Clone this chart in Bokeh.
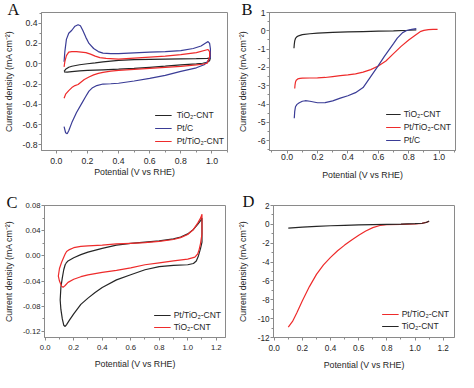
from bokeh.plotting import figure
from bokeh.layouts import column, row
from bokeh.models import Legend, LegendItem, SingleIntervalTicker, NumeralTickFormatter, Title
from bokeh.embed import file_html
from bokeh.resources import INLINE

# ---------------- data ----------------
a_tio2_v = [0.05, 0.06, 0.08, 0.10, 0.15, 0.20, 0.25, 0.30, 0.40, 0.50, 0.60, 0.70, 0.80, 0.90, 0.97, 0.99,
            0.985, 0.97, 0.94, 0.90, 0.80, 0.70, 0.60, 0.50, 0.40, 0.30, 0.20, 0.15, 0.10, 0.07, 0.05]
a_tio2_j = [-0.075, -0.055, -0.035, -0.025, -0.010, 0.000, 0.008, 0.018, 0.034, 0.040, 0.043, 0.046, 0.048, 0.050, 0.052, 0.055,
            0.030, 0.015, 0.005, -0.002, -0.012, -0.024, -0.035, -0.045, -0.054, -0.060, -0.066, -0.070, -0.077, -0.083, -0.080]
a_ptc_v = [0.05, 0.055, 0.065, 0.08, 0.10, 0.12, 0.14, 0.155, 0.17, 0.19, 0.21, 0.24, 0.27, 0.30, 0.35, 0.40, 0.50, 0.60,
           0.70, 0.80, 0.88, 0.93, 0.96, 0.975, 0.985, 0.99, 0.99,
           0.97, 0.95, 0.90, 0.80, 0.70, 0.60, 0.50, 0.40, 0.35, 0.30, 0.26, 0.23, 0.21, 0.19, 0.16, 0.13, 0.10, 0.08,
           0.07, 0.06, 0.05]
a_ptc_j = [0.02, 0.12, 0.24, 0.30, 0.33, 0.37, 0.385, 0.375, 0.33, 0.26, 0.20, 0.15, 0.12, 0.105, 0.10, 0.10, 0.108, 0.115,
           0.12, 0.13, 0.15, 0.175, 0.205, 0.218, 0.20, 0.15, 0.06,
           0.02, -0.01, -0.04, -0.075, -0.115, -0.145, -0.17, -0.192, -0.197, -0.20, -0.215, -0.24, -0.27, -0.32, -0.40,
           -0.48, -0.58, -0.66, -0.69, -0.68, -0.62]
a_pt_v = [0.05, 0.055, 0.065, 0.08, 0.10, 0.13, 0.16, 0.19, 0.22, 0.25, 0.28, 0.32, 0.40, 0.50, 0.60, 0.70, 0.80, 0.90,
          0.975, 0.985, 0.985,
          0.97, 0.94, 0.90, 0.80, 0.70, 0.60, 0.50, 0.40, 0.35, 0.30, 0.27, 0.24, 0.21, 0.18, 0.16, 0.14, 0.12, 0.10,
          0.08, 0.06, 0.05]
a_pt_j = [-0.03, 0.02, 0.08, 0.115, 0.12, 0.12, 0.115, 0.11, 0.095, 0.075, 0.06, 0.052, 0.045, 0.055, 0.065, 0.075, 0.09,
          0.11, 0.14, 0.12, 0.07,
          0.005, -0.005, -0.012, -0.025, -0.035, -0.045, -0.055, -0.065, -0.072, -0.085, -0.095, -0.11, -0.13, -0.155,
          -0.18, -0.205, -0.215, -0.235, -0.265, -0.30, -0.34]

b_tio2_v = [0.045, 0.047, 0.05, 0.055, 0.065, 0.08, 0.10, 0.15, 0.20, 0.30, 0.40, 0.50, 0.60, 0.70, 0.80, 0.85]
b_tio2_j = [-0.95, -0.75, -0.55, -0.42, -0.32, -0.26, -0.21, -0.16, -0.13, -0.09, -0.06, -0.04, -0.02, 0.00, 0.03, 0.05]
b_pt_v = [0.05, 0.052, 0.055, 0.06, 0.07, 0.085, 0.10, 0.15, 0.20, 0.25, 0.30, 0.35, 0.40, 0.45, 0.50, 0.55, 0.60,
          0.65, 0.70, 0.75, 0.80, 0.85, 0.88, 0.90, 0.93, 0.96, 0.99]
b_pt_j = [-3.15, -2.95, -2.80, -2.70, -2.63, -2.60, -2.59, -2.58, -2.57, -2.55, -2.50, -2.45, -2.41, -2.35, -2.26, -2.12,
          -1.92, -1.65, -1.25, -0.85, -0.50, -0.20, -0.03, 0.02, 0.06, 0.08, 0.08]
b_ptc_v = [0.047, 0.05, 0.055, 0.065, 0.08, 0.10, 0.12, 0.15, 0.20, 0.25, 0.30, 0.35, 0.40, 0.45, 0.50, 0.55, 0.60,
           0.64, 0.70, 0.725, 0.76, 0.79, 0.82, 0.85]
b_ptc_j = [-4.78, -4.40, -4.15, -4.02, -3.93, -3.85, -3.82, -3.85, -3.93, -3.92, -3.83, -3.68, -3.55, -3.38, -3.10, -2.50,
           -1.90, -1.40, -0.70, -0.40, -0.10, 0.03, 0.08, 0.12]

c_pt_v = [0.145, 0.16, 0.20, 0.25, 0.30, 0.40, 0.50, 0.60, 0.70, 0.80, 0.90, 0.95, 1.00, 1.04, 1.07, 1.09, 1.10,
          1.10, 1.10, 1.09, 1.075, 1.06, 1.04, 1.00, 0.90, 0.80, 0.70, 0.60, 0.50, 0.40, 0.35, 0.30, 0.25, 0.20,
          0.17, 0.15, 0.14, 0.13, 0.12, 0.11, 0.105, 0.11, 0.12, 0.13, 0.14, 0.145]
c_pt_j = [-0.012, -0.008, -0.003, 0.002, 0.006, 0.012, 0.017, 0.020, 0.022, 0.024, 0.027, 0.030, 0.035, 0.042, 0.050,
          0.056, 0.060, 0.040, 0.022, 0.012, 0.000, -0.008, -0.012, -0.014, -0.015, -0.017, -0.022, -0.030, -0.038,
          -0.050, -0.058, -0.067, -0.077, -0.092, -0.102, -0.109, -0.112, -0.110, -0.100, -0.085, -0.070, -0.050,
          -0.035, -0.022, -0.014, -0.012]
c_tio2_v = [0.14, 0.15, 0.17, 0.20, 0.25, 0.30, 0.40, 0.50, 0.60, 0.70, 0.80, 0.90, 0.95, 1.00, 1.04, 1.07, 1.09, 1.10,
            1.10, 1.10, 1.09, 1.08, 1.07, 1.05, 1.00, 0.90, 0.80, 0.70, 0.60, 0.50, 0.40, 0.30, 0.25, 0.20, 0.16,
            0.14, 0.125, 0.115, 0.10, 0.092, 0.10, 0.115, 0.13, 0.14]
c_tio2_j = [0.003, 0.007, 0.010, 0.013, 0.015, 0.016, 0.017, 0.019, 0.020, 0.021, 0.023, 0.026, 0.029, 0.034, 0.042,
            0.052, 0.060, 0.066, 0.050, 0.035, 0.020, 0.010, 0.003, -0.002, -0.005, -0.008, -0.011, -0.014, -0.019,
            -0.023, -0.026, -0.030, -0.033, -0.037, -0.042, -0.047, -0.050, -0.048, -0.040, -0.032, -0.020, -0.010,
            -0.002, 0.003]

d_pt_v = [0.10, 0.13, 0.16, 0.20, 0.25, 0.30, 0.35, 0.40, 0.45, 0.50, 0.55, 0.60, 0.65, 0.70, 0.75, 0.80, 0.90, 1.00,
          1.05, 1.10]
d_pt_j = [-10.9, -10.3, -9.4, -8.1, -6.6, -5.3, -4.3, -3.5, -2.8, -2.2, -1.65, -1.15, -0.70, -0.35, -0.12, -0.03, 0.0,
          0.05, 0.10, 0.30]
d_tio2_v = [0.10, 0.20, 0.30, 0.40, 0.50, 0.60, 0.70, 0.80, 0.90, 1.00, 1.05, 1.08, 1.10]
d_tio2_j = [-0.40, -0.30, -0.22, -0.15, -0.10, -0.06, -0.03, 0.00, 0.03, 0.07, 0.12, 0.20, 0.35]

LBL_TIO2 = "TiO\u2082-CNT"
LBL_PT = "Pt/TiO\u2082-CNT"
LBL_PTC = "Pt/C"
PANEL_LETTERS = ["A", "B", "C", "D"]

# ---------------- style ----------------
BLACK = "#262626"
RED = "#ee2b2b"
BLUE = "#3a3c96"
FRAME = "#8a8a8a"
TXT = "#262626"
SANS = "Liberation Sans"
SERIF = "Liberation Serif"
YLABEL = "Current density (mA cm\u207b\u00b2)"
XLABEL = "Potential (V vs RHE)"


def panel(w, h, bl, br, bt, bb, xr, yr, yint, yfmt, tfs, ylab_off, xlab_off, tick_st, letter, loff, lstand):
    p = figure(width=w, height=h, x_range=xr, y_range=yr, output_backend="svg", toolbar_location=None,
               min_border_left=bl, min_border_right=br, min_border_top=bt, min_border_bottom=bb)
    p.grid.visible = False
    p.outline_line_color = FRAME
    p.background_fill_color = "white"
    p.border_fill_color = "white"
    p.xaxis.ticker = SingleIntervalTicker(interval=0.2, num_minor_ticks=2)
    p.yaxis.ticker = SingleIntervalTicker(interval=yint, num_minor_ticks=2)
    p.xaxis.formatter = NumeralTickFormatter(format="0.0")
    p.yaxis.formatter = NumeralTickFormatter(format=yfmt)
    for ax in (p.xaxis[0], p.yaxis[0]):
        ax.axis_line_color = FRAME
        ax.major_tick_line_color = FRAME
        ax.minor_tick_line_color = FRAME
        ax.major_tick_out = 3
        ax.major_tick_in = 0
        ax.minor_tick_out = 2
        ax.minor_tick_in = 0
        ax.major_label_text_font = SANS
        ax.major_label_text_font_size = tfs
        ax.major_label_text_color = TXT
        ax.axis_label_text_font = SANS
        ax.axis_label_text_font_size = "8.8px"
        ax.axis_label_text_font_style = "normal"
        ax.axis_label_text_color = TXT
    p.xaxis.axis_label = XLABEL
    p.yaxis.axis_label = YLABEL
    p.yaxis.major_label_standoff = 1
    p.xaxis.major_label_standoff = tick_st
    p.yaxis.axis_label_standoff = ylab_off
    p.xaxis.axis_label_standoff = xlab_off
    p.add_layout(Title(text=letter, align="left", offset=loff, standoff=lstand, text_font=SERIF,
                       text_font_size="16.5px", text_font_style="normal", text_color="#111111"), "above")
    return p


def add_legend(p, items, gw, st, bottom, item_h, spacing):
    lg = Legend(items=[LegendItem(label=t, renderers=[r]) for t, r in items],
                border_line_color=None, background_fill_alpha=0, label_text_font=SANS,
                label_text_font_size="8.5px", label_text_color=TXT, glyph_width=gw, glyph_height=item_h,
                label_height=item_h, label_standoff=st, spacing=spacing, padding=0, margin=bottom,
                location="bottom_right")
    p.add_layout(lg)
    return lg


pA = panel(229, 182, 40, 2, 10, 29, (-0.095, 1.1), (-0.855, 0.505), 0.2, "0.0", "8.7px", 6, 0, 4,
           PANEL_LETTERS[0], -34, -12)
rA1 = pA.line(a_tio2_v, a_tio2_j, line_color=BLACK, line_width=1.2)
rA2 = pA.line(a_ptc_v, a_ptc_j, line_color=BLUE, line_width=1.2)
rA3 = pA.line(a_pt_v, a_pt_j, line_color=RED, line_width=1.2)

pB = panel(229, 182, 40, 3, 12, 28, (-0.116, 1.108), (-6.54, 1.0), 1, "0", "8.7px", 7, 7, 0,
           PANEL_LETTERS[1], -28, -12)
rB1 = pB.line(b_tio2_v, b_tio2_j, line_color=BLACK, line_width=1.2)
rB2 = pB.line(b_pt_v, b_pt_j, line_color=RED, line_width=1.2)
rB3 = pB.line(b_ptc_v, b_ptc_j, line_color=BLUE, line_width=1.2)

pC = panel(229, 190, 43, 4, 21, 28, (-0.005, 1.265), (-0.1295, 0.08), 0.04, "0.00", "7.7px", 6, 6, 4,
           PANEL_LETTERS[2], -38, -12)
rC1 = pC.line(c_pt_v, c_pt_j, line_color=BLACK, line_width=1.2)
rC2 = pC.line(c_tio2_v, c_tio2_j, line_color=RED, line_width=1.2)

pD = panel(229, 190, 44, 4, 23, 28, (-0.005, 1.28), (-12, 2), 2, "0", "8.2px", 7, 6, 4,
           PANEL_LETTERS[3], -31, -10)
rD1 = pD.line(d_pt_v, d_pt_j, line_color=RED, line_width=1.2)
rD2 = pD.line(d_tio2_v, d_tio2_j, line_color=BLACK, line_width=1.2)

add_legend(pA, [(LBL_TIO2, rA1), (LBL_PTC, rA2), (LBL_PT, rA3)], 17, 5, 3, 12, 1)
add_legend(pB, [(LBL_TIO2, rB1), (LBL_PT, rB2), (LBL_PTC, rB3)], 15, 3, 4, 12, 1)
add_legend(pC, [(LBL_PT, rC1), (LBL_TIO2, rC2)], 17, 3, 4, 12, 0)
add_legend(pD, [(LBL_PT, rD1), (LBL_TIO2, rD2)], 17, 3, 5, 12, 0)

layout = column(row(pA, pB), row(pC, pD))
open("out.html", "w").write(file_html(layout, INLINE))
